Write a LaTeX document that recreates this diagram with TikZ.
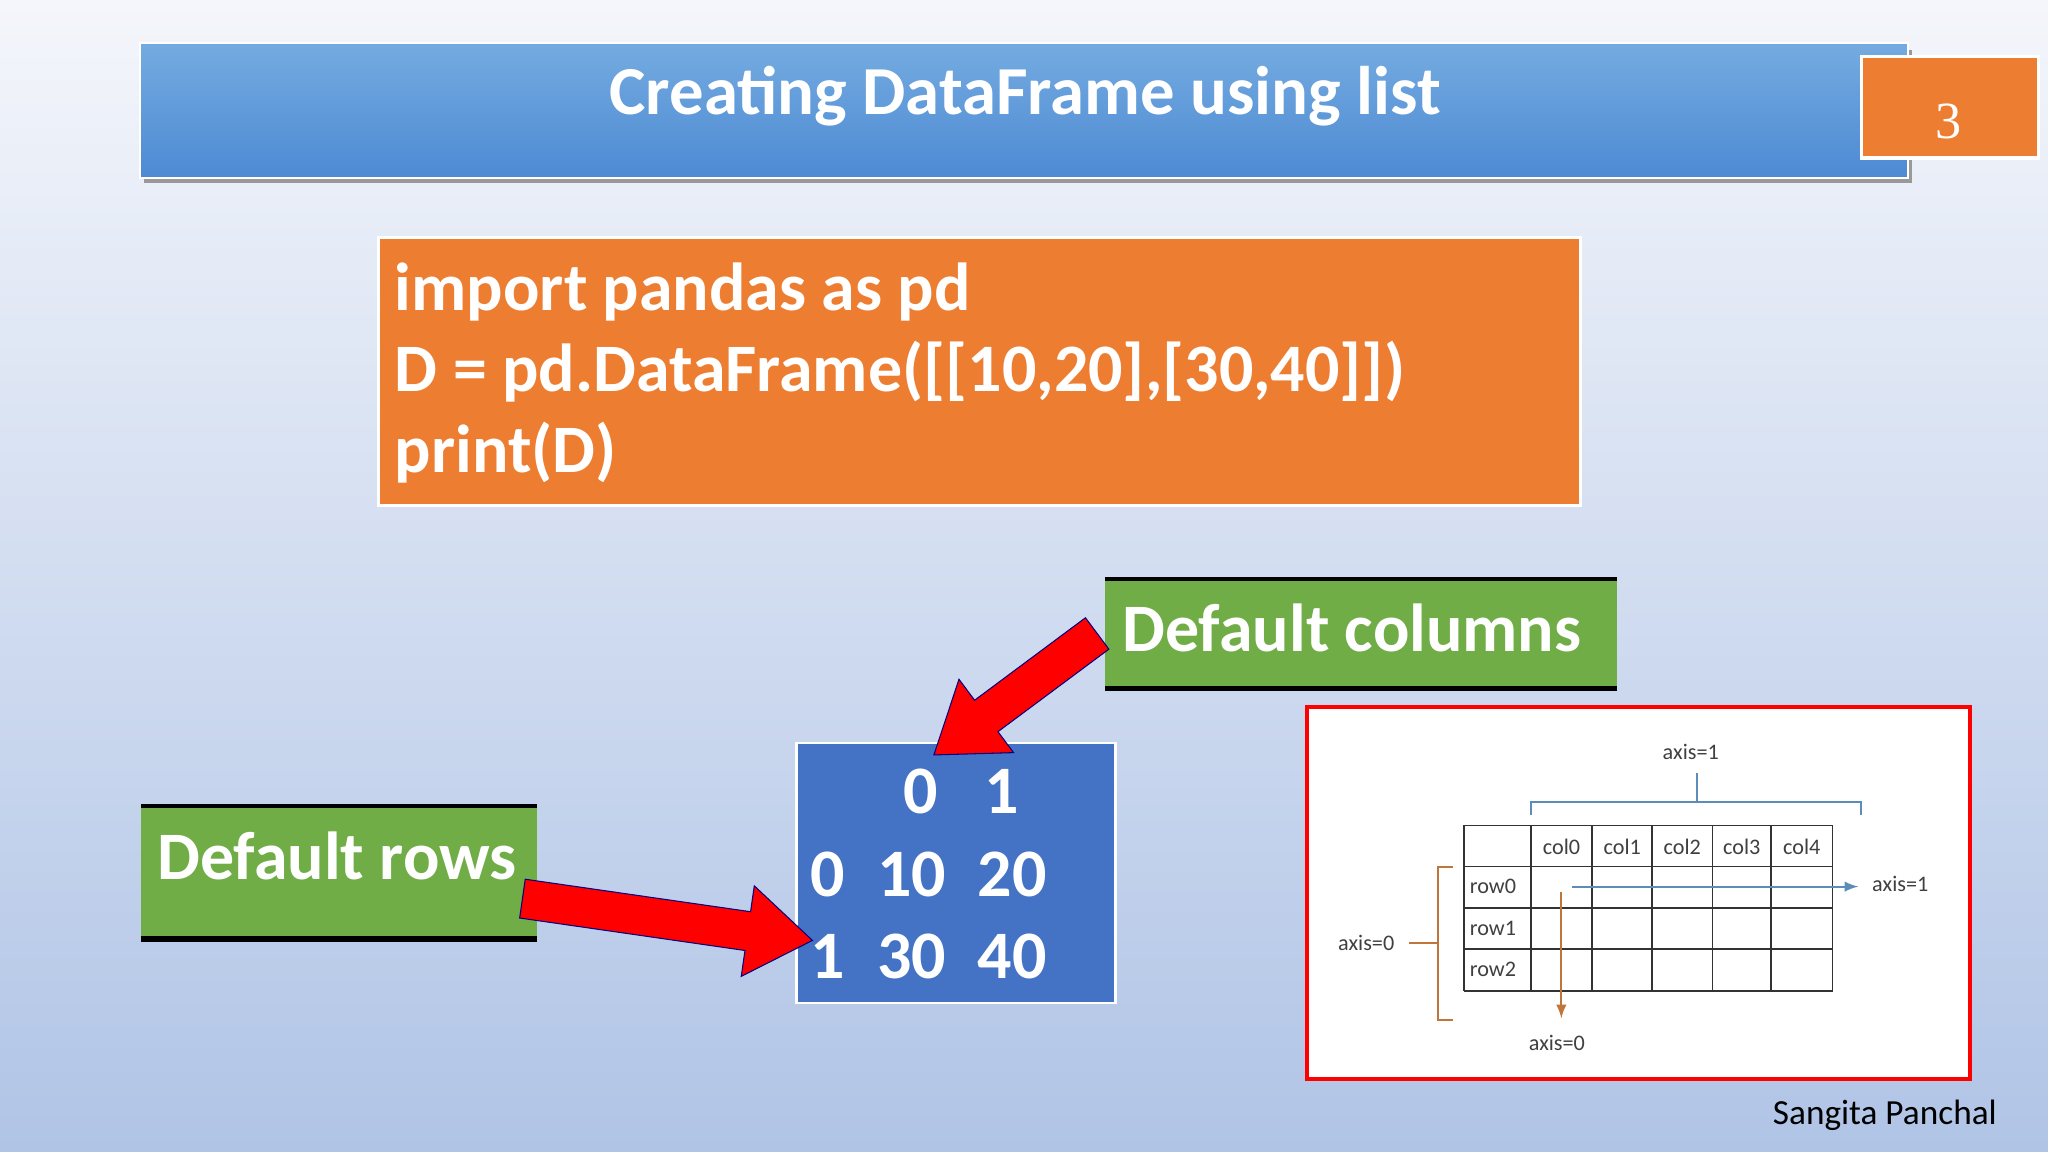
\documentclass[tikz,border=0pt]{standalone}
\usepackage{fontspec}
\setmainfont{Carlito}
\newfontfamily\numfont{Liberation Serif}
\usetikzlibrary{calc}
\definecolor{slideorange}{HTML}{ED7D31}
\definecolor{slidegreen}{HTML}{70AD47}
\definecolor{slideblue}{HTML}{4472C4}
\definecolor{axisblue}{HTML}{5B8DB8}
\definecolor{axisorange}{HTML}{C0763A}
\definecolor{bgtop}{HTML}{F4F6FB}
\definecolor{bgbottom}{HTML}{B0C4E6}
\definecolor{titletop}{HTML}{74ABE0}
\definecolor{titlebottom}{HTML}{4D8AD3}
\newcommand\blockarrow[2]{%
  \coordinate (bs) at (#1); \coordinate (be) at (#2);
  \coordinate (bh) at ($(be)!25pt!(bs)$);
  \filldraw[fill=red, draw=blue!50!black, line width=0.4pt]
    ($(bs)!7.5pt!90:(be)$) -- ($(bh)!7.5pt!-90:(bs)$) -- ($(bh)!17.5pt!-90:(bs)$)
    -- (be) -- ($(bh)!17.5pt!90:(bs)$) -- ($(bh)!7.5pt!90:(bs)$)
    -- ($(bs)!7.5pt!-90:(be)$) -- cycle;}
\begin{document}
\begin{tikzpicture}[x=0.5pt, y=-0.5pt,
  every node/.style={inner sep=0pt},
  bigtext/.style={font=\bfseries\fontsize{26}{31}\selectfont, text=white},
  codetext/.style={font=\bfseries\fontsize{26}{31}\selectfont, text=white, anchor=base west},
  smalltext/.style={font=\fontsize{8.5}{10}\selectfont, text=black!75},
  gridline/.style={black!80, line width=0.6pt}]

  % background
  \shade[top color=bgtop, bottom color=bgbottom] (0,0) rectangle (1568,882);
  \useasboundingbox (0,0) rectangle (1568,882);

  % title bar
  \fill[black!40] (110,38) rectangle (1464,140);
  \shade[top color=titletop, bottom color=titlebottom, draw=white, line width=0.8pt]
    (107,33) rectangle (1461,136);
  \node[font=\bfseries\fontsize{26.3}{30}\selectfont, text=white, anchor=base] (title) at (785,88) {Creating DataFrame using list};
  \filldraw[fill=slideorange, draw=white, line width=1.2pt] (1425,43) rectangle (1561,121);
  \node[font=\numfont\fontsize{20}{24}\selectfont, text=white, anchor=base] (pagenum) at (1492,106) {3};

  % code box
  \filldraw[fill=slideorange, draw=white, line width=1pt] (290,182) rectangle (1210,387);
  \node[codetext] (code1) at (302,238) {import pandas as pd};
  \node[codetext] (code2) at (302,300) {D = pd.DataFrame([[10,20],[30,40]])};
  \node[codetext] (code3) at (302,362) {print(D)};

  % green labels
  \fill[slidegreen] (846,443) rectangle (1238,528);
  \draw[black, line width=1.5pt] (846,443) -- (1238,443);
  \draw[black, line width=2pt] (846,527) -- (1238,527);
  \node[bigtext, anchor=base west] (cols) at (859,499) {Default columns};
  \fill[slidegreen] (108,617) rectangle (411,720);
  \draw[black, line width=1.5pt] (108,617) -- (411,617);
  \draw[black, line width=2pt] (108,719) -- (411,719);
  \node[bigtext, anchor=base west] (rows) at (120,673) {Default rows};

  % output table
  \filldraw[fill=slideblue, draw=white, line width=1pt] (610,569) rectangle (854,768);
  \node[bigtext, anchor=base] (h0) at (705,623) {0};
  \node[bigtext, anchor=base] (h1) at (767,623) {1};
  \node[bigtext, anchor=base] (r0) at (634,686) {0};
  \node[bigtext, anchor=base] (v00) at (698,686) {10};
  \node[bigtext, anchor=base] (v01) at (775,686) {20};
  \node[bigtext, anchor=base] (r1) at (634,749) {1};
  \node[bigtext, anchor=base] (v10) at (698,749) {30};
  \node[bigtext, anchor=base] (v11) at (775,749) {40};

  % red arrows
  \blockarrow{840,485}{715,578}
  \blockarrow{400,688}{622,720}

  % axis picture
  \filldraw[fill=white, draw=red, line width=1.5pt] (1001,541) rectangle (1508,826);
  \foreach \x in {1121,1172,1219,1265,1311,1356,1403}
    \draw[gridline] (\x,632) -- (\x,758.7);
  \foreach \y in {632,663.5,695,726.5,758.7}
    \draw[gridline] (1121,\y) -- (1403,\y);
  \foreach \n/\x in {0/1195.5,1/1242,2/1288,3/1333.5,4/1379.5}
    \node[smalltext] (col\n) at (\x,648) {col\n};
  \foreach \n/\y in {0/679,1/711,2/742.5}
    \node[smalltext, anchor=west] (row\n) at (1125,\y) {row\n};
  % top brace
  \draw[axisblue, line width=0.8pt] (1172,624) -- (1172,614) -- (1425,614) -- (1425,624);
  \draw[axisblue, line width=0.8pt] (1299,614) -- (1299,592);
  \node[smalltext] (ax1top) at (1294.5,576) {axis=1};
  \draw[axisblue, line width=0.8pt, -latex] (1203.6,678.8) -- (1422.7,678.8);
  \node[smalltext, anchor=west] (ax1right) at (1433,677) {axis=1};
  % left bracket
  \draw[axisorange, line width=0.8pt] (1112.6,663.5) -- (1101,663.5) -- (1101,780.9) -- (1112.6,780.9);
  \draw[axisorange, line width=0.8pt] (1101,722) -- (1078.5,722);
  \node[smalltext] (ax0left) at (1046,722) {axis=0};
  \draw[axisorange, line width=0.8pt, -latex] (1195.4,682.6) -- (1195.4,779.6);
  \node[smalltext] (ax0bottom) at (1192,798.7) {axis=0};

  % footer
  \node[font=\fontsize{13.5}{16}\selectfont, anchor=base west] (author) at (1357,861) {Sangita Panchal};
\end{tikzpicture}
\end{document}
